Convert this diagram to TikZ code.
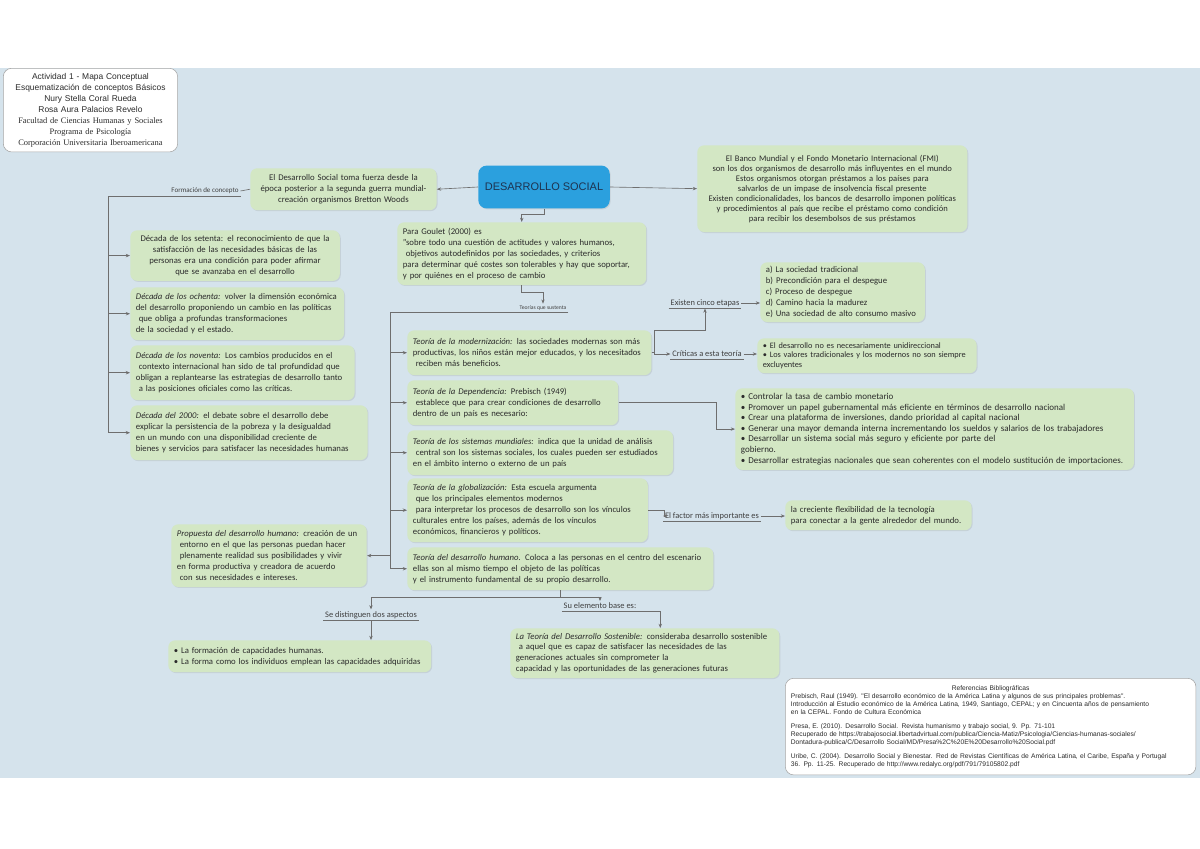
\documentclass[tikz,border=0pt]{standalone}
\usepackage{fontspec}
\setmainfont{Carlito}
\newfontfamily\arialfont{Liberation Sans}
\newfontfamily\timesfont{Liberation Serif}
\usetikzlibrary{arrows.meta,shadows}
\definecolor{bgblue}{HTML}{D5E3EC}
\definecolor{boxgreen}{HTML}{D3E7C4}
\definecolor{coreblue}{HTML}{2BA0DE}
\definecolor{corenavy}{HTML}{1E3350}
\definecolor{linegray}{HTML}{6E6E6E}
\definecolor{inkgray}{HTML}{2B2B2B}
\begin{document}
\begin{tikzpicture}[x=0.025cm, y=-0.025cm,
  >={Stealth[length=3pt,width=2.4pt]},
  lnk/.style={draw=linegray, line width=0.45pt},
  conn/.style={lnk, ->},
  gbox/.style={fill=boxgreen, rounded corners=5pt, anchor=north west, inner xsep=4pt, inner ysep=2pt,
    text=inkgray, font=\fontsize{6.2}{7.8}\selectfont,
    drop shadow={shadow xshift=0.7pt, shadow yshift=-0.7pt, opacity=0.18}},
  wbox/.style={fill=white, draw=black!35, rounded corners=6pt, anchor=north west, inner xsep=4pt, inner ysep=2pt, text=inkgray},
  tag/.style={font=\fontsize{6}{7}\selectfont, text=black!75, inner sep=1.2pt}]
% page and backdrop
\fill[white] (0,0) rectangle (1200,848);
\useasboundingbox (0,0) rectangle (1200,848);
\fill[bgblue] (0,68) rectangle (1200,778);
% title card
\node[wbox, align=center, inner xsep=1pt, text width=122pt, minimum height=59.5pt, font=\arialfont\fontsize{6}{7.8}\selectfont] (title) at (3,68)
  {Actividad 1 - Mapa Conceptual\\Esquematización de conceptos Básicos\\Nury Stella Coral Rueda\\Rosa Aura Palacios Revelo\\{\timesfont Facultad de Ciencias Humanas y Sociales}\\{\timesfont Programa de Psicología}\\{\timesfont Corporación Universitaria Iberoamericana}};
% central topic
\node[fill=coreblue, rounded corners=6pt, minimum width=93.5pt, minimum height=30.5pt, text=corenavy,
  font=\arialfont\fontsize{7.8}{9}\selectfont, drop shadow={shadow xshift=0.7pt, shadow yshift=-0.7pt, opacity=0.18}]
  (central) at (544,187) {DESARROLLO SOCIAL};
% origin and organisms
\node[gbox, align=center, text width=124.5pt, minimum height=29.8pt] (bretton) at (250,168)
  {El Desarrollo Social toma fuerza desde la\\época posterior a la segunda guerra mundial-\\creación organismos Bretton Woods};
\node[gbox, align=center, text width=184pt, minimum height=61.7pt, font=\fontsize{6.1}{7.1}\selectfont] (banco) at (697,145)
  {El Banco Mundial y el Fondo Monetario Internacional (FMI)\\son los dos organismos de desarrollo más influyentes en el mundo\\Estos organismos otorgan préstamos a los países para\\salvarlos de un impase de insolvencia fiscal presente\\Existen condicionalidades, los bancos de desarrollo imponen políticas\\y procedimientos al país que recibe el préstamo como condición\\para recibir los desembolsos de sus préstamos};
% decades
\node[tag, font=\fontsize{5}{6}\selectfont] (concepto) at (205,191) {Formación de concepto};
\node[gbox, align=center, text width=141pt, minimum height=36pt] (setenta) at (130,230)
  {Década de los setenta: el reconocimiento de que la\\satisfacción de las necesidades básicas de las\\personas era una condición para poder afirmar\\que se avanzaba en el desarrollo};
\node[gbox, align=left, text width=144pt, minimum height=37.6pt] (ochenta) at (130,287)
  {\textit{Década de los ochenta:} volver la dimensión económica\\del desarrollo proponiendo un cambio en las políticas\\\ que obliga a profundas transformaciones\\de la sociedad y el estado.};
\node[gbox, align=left, text width=151.5pt, minimum height=39pt] (noventa) at (130,345)
  {\textit{Década de los noventa:} Los cambios producidos en el\\\ contexto internacional han sido de tal profundidad que\\obligan a replantearse las estrategias de desarrollo tanto\\\ a las posiciones oficiales como las críticas.};
\node[gbox, align=left, text width=160.7pt, minimum height=39pt] (dosmil) at (130,405)
  {\textit{Década del 2000:} el debate sobre el desarrollo debe\\explicar la persistencia de la pobreza y la desigualdad\\en un mundo con una disponibilidad creciente de\\bienes y servicios para satisfacer las necesidades humanas};
% Goulet
\node[gbox, align=left, text width=169pt, minimum height=44.6pt] (goulet) at (397,222)
  {Para Goulet (2000) es\\"sobre todo una cuestión de actitudes y valores humanos,\\\ objetivos autodefinidos por las sociedades, y criterios\\para determinar qué costes son tolerables y hay que soportar,\\y por quiénes en el proceso de cambio};
\node[tag, font=\fontsize{4}{5}\selectfont] (teorias) at (543,308) {Teorías que sustenta};
% theories
\node[gbox, align=left, text width=165.6pt, minimum height=31.9pt] (modern) at (407,330)
  {\textit{Teoría de la modernización:} las sociedades modernas son más\\productivas, los niños están mejor educados, y los necesitados\\\ reciben más beneficios.};
\node[gbox, align=left, text width=142pt, minimum height=31.9pt] (depend) at (407,380)
  {\textit{Teoría de la Dependencia:} Prebisch (1949)\\\ establece que para crear condiciones de desarrollo\\dentro de un país es necesario:};
\node[gbox, align=left, text width=181pt, minimum height=31.9pt] (sistemas) at (407,430)
  {\textit{Teoría de los sistemas mundiales:} indica que la unidad de análisis\\\ central son los sistemas sociales, los cuales pueden ser estudiados\\en el ámbito interno o externo de un país};
\node[gbox, align=left, text width=163pt, minimum height=45.4pt] (global) at (407,478)
  {\textit{Teoría de la globalización:} Esta escuela argumenta\\\ que los principales elementos modernos\\\ para interpretar los procesos de desarrollo son los vínculos\\culturales entre los países, además de los vínculos\\económicos, financieros y políticos.};
\node[gbox, align=left, text width=209.6pt, minimum height=30.5pt] (humano) at (407,547)
  {\textit{Teoría del desarrollo humano.} Coloca a las personas en el centro del escenario\\ellas son al mismo tiempo el objeto de las políticas\\y el instrumento fundamental de su propio desarrollo.};
% modernization details
\node[tag] (etapas) at (705,303) {Existen cinco etapas};
\node[gbox, align=left, text width=109pt, minimum height=42.5pt] (etapasbox) at (760,262)
  {a) La sociedad tradicional\\b) Precondición para el despegue\\c) Proceso de despegue\\d) Camino hacia la madurez\\e) Una sociedad de alto consumo masivo};
\node[tag] (criticas) at (707,354) {Críticas a esta teoría};
\node[gbox, align=left, text width=148pt, minimum height=24.8pt, font=\fontsize{5.9}{7}\selectfont] (critbox) at (757,338)
  {• El desarrollo no es necesariamente unidireccional\\• Los valores tradicionales y los modernos no son siempre\\excluyentes};
% dependency list
\node[gbox, align=left, text width=275.5pt, minimum height=58pt, font=\fontsize{6.4}{7.5}\selectfont] (deplist) at (735,388)
  {• Controlar la tasa de cambio monetario\\• Promover un papel gubernamental más eficiente en términos de desarrollo nacional\\• Crear una plataforma de inversiones, dando prioridad al capital nacional\\• Generar una mayor demanda interna incrementando los sueldos y salarios de los trabajadores\\• Desarrollar un sistema social más seguro y eficiente por parte del\\gobierno.\\• Desarrollar estrategias nacionales que sean coherentes con el modelo sustitución de importaciones.};
% globalization detail
\node[tag] (factor) at (712,516) {El factor más importante es};
\node[gbox, align=left, text width=124.5pt, minimum height=21.3pt] (flex) at (785,500)
  {la creciente flexibilidad de la tecnología\\para conectar a la gente alrededor del mundo.};
% human development details
\node[gbox, align=left, text width=131pt, minimum height=44.6pt] (propuesta) at (171,524)
  {\textit{Propuesta del desarrollo humano:} creación de un\\\ entorno en el que las personas puedan hacer\\\ plenamente realidad sus posibilidades y vivir\\en forma productiva y creadora de acuerdo\\\ con sus necesidades e intereses.};
\node[tag] (distinguen) at (371,615) {Se distinguen dos aspectos};
\node[gbox, align=left, text width=179pt, minimum height=22.7pt] (aspectos) at (168,640)
  {• La formación de capacidades humanas.\\• La forma como los individuos emplean las capacidades adquiridas};
\node[tag] (elemento) at (600,606) {Su elemento base es:};
\node[gbox, align=left, text width=183.3pt, minimum height=35.4pt] (sostenible) at (510,628)
  {\textit{La Teoría del Desarrollo Sostenible:} consideraba desarrollo sostenible\\\ a aquel que es capaz de satisfacer las necesidades de las\\generaciones actuales sin comprometer la\\capacidad y las oportunidades de las generaciones futuras};
% references
\node[wbox, align=left, text width=284pt, minimum height=68.7pt, font=\arialfont\fontsize{4.75}{5.7}\selectfont] (refs) at (785,678)
  {\makebox[\linewidth]{Referencias Bibliográficas}\\
   Prebisch, Raul (1949). "El desarrollo económico de la América Latina y algunos de sus principales problemas".\\
   Introducción al Estudio económico de la América Latina, 1949, Santiago, CEPAL; y en Cincuenta años de pensamiento\\
   en la CEPAL. Fondo de Cultura Económica\\[4pt]
   Presa, E. (2010). Desarrollo Social. Revista humanismo y trabajo social, 9. Pp. 71-101\\
   Recuperado de https://trabajosocial.libertadvirtual.com/publica/Ciencia-Matiz/Psicologia/Ciencias-humanas-sociales/\\
   Dontadura-publica/C/Desarrollo Social/MD/Presa\%2C\%20E\%20Desarrollo\%20Social.pdf\\[4pt]
   Uribe, C. (2004). Desarrollo Social y Bienestar. Red de Revistas Científicas de América Latina, el Caribe, España y Portugal\\
   36. Pp. 11-25. Recuperado de http://www.redalyc.org/pdf/791/79105802.pdf};
% connectors from the centre
\draw[conn] (central.west) -- (bretton.east);
\draw[conn] (central.east) -- (banco.west);
\draw[conn] (central.south) -- ++(0,6) -| (goulet.north);
\draw[conn] (goulet.south) -- ++(0,7) -| (teorias.north);
% left trunk
\coordinate (lt) at (108,0);
\draw[lnk] (bretton.west) -- (concepto.east);
\draw[lnk] (concepto.south east) -- (concepto.south west) -- (concepto.south west -| lt) -- (lt |- dosmil.west);
\foreach \b in {setenta,ochenta,noventa,dosmil}
  \draw[conn] (lt |- \b.west) -- (\b.west);
% theory trunk
\coordinate (mt) at (390,0);
\draw[lnk] (teorias.south east) -- (teorias.south west) -- (teorias.south west -| mt) -- (mt |- humano.west);
\foreach \t in {modern,depend,sistemas,global,humano}
  \draw[conn] (mt |- \t.west) -- (\t.west);
\draw[conn] (mt |- propuesta.east) -- (propuesta.east);
% label underlines
\foreach \l in {etapas,criticas,factor,distinguen,elemento}
  \draw[lnk] (\l.south west) -- (\l.south east);
% branches to details
\draw[conn] (modern.east) -- ++(3,0) |- (modern.north -| etapas.south) -- (etapas.south);
\draw[conn] (modern.east) -- ++(3,0) |- (criticas.west);
\draw[conn] (etapas.east) -- (etapas.east -| etapasbox.west);
\draw[conn] (criticas.east) -- (criticas.east -| critbox.west);
\draw[conn] (depend.east) -- ++(98,0) |- (deplist.west);
\draw[conn] (global.east) -- ++(16,0) |- (factor.west);
\draw[conn] (factor.east) -- (factor.east -| flex.west);
\draw[lnk] (humano.south) -- ++(0,7) coordinate (hb);
\draw[conn] (hb) -| (distinguen.north);
\draw[conn] (hb) -| (elemento.north);
\draw[conn] (distinguen.south) -- (distinguen.south |- aspectos.north);
\draw[conn] (elemento.south east) -- ++(22,0) coordinate (eb) -- (eb |- sostenible.north);
\end{tikzpicture}
\end{document}
